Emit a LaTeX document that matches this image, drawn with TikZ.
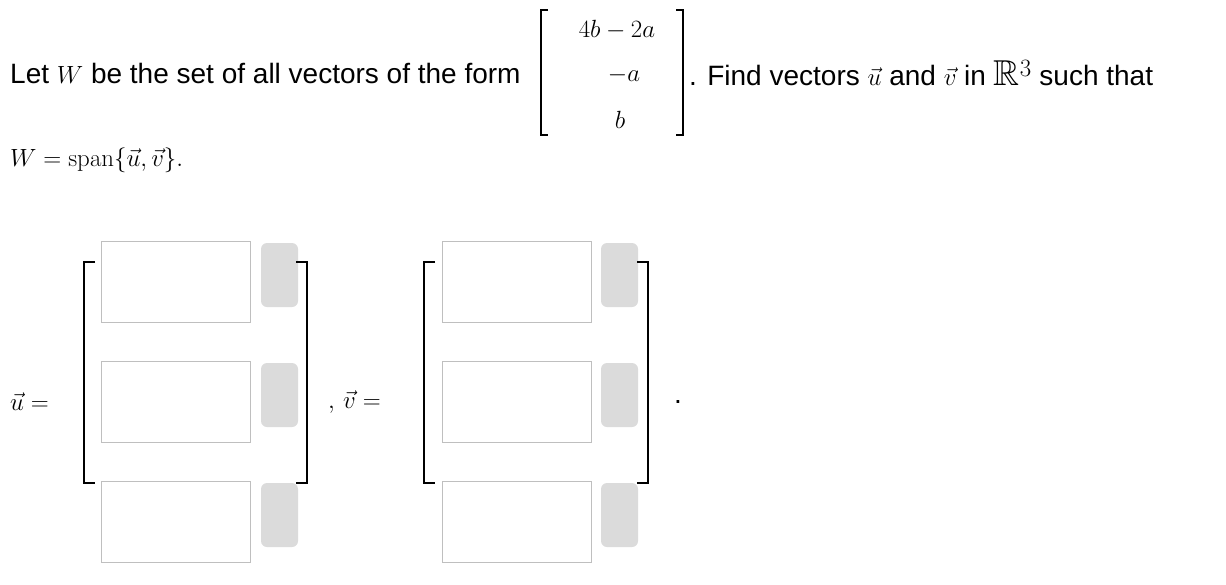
\documentclass[tikz,border=0pt]{standalone}
\usepackage{amsmath,amssymb}
\usepackage[no-math]{fontspec}
\setmainfont{Liberation Sans}
\newcommand{\mm}[1]{{\fontsize{36}{40}\selectfont$#1$}}
\begin{document}
\begin{tikzpicture}[x=1pt,y=-1pt,
  txt/.style={inner sep=0pt,font=\fontsize{28}{32}\selectfont},
  inbox/.style={draw=black!25,fill=white,line width=1pt,minimum width=149pt,minimum height=81pt,inner sep=0pt},
  btn/.style={fill=black!14,rounded corners=6pt,minimum width=37pt,minimum height=64pt,inner sep=0pt},
  brk/.style={line width=1.3pt}]
\useasboundingbox (0,0) rectangle (1226,584);
\node[txt,anchor=west] (t1) at (10,73) {Let \mm{W} be the set of all vectors of the form};
% small matrix
\draw[brk] (548,10) -- (541,10) -- (541,135) -- (548,135);
\draw[brk] (676,10) -- (683,10) -- (683,135) -- (676,135);
\node[txt] (m1) at (617,30) {\mm{4b-2a}};
\node[txt] (m2) at (624,75) {\mm{-a}};
\node[txt] (m3) at (620,120) {\mm{b}};
\node[txt,anchor=west] (t2) at (689,73) {. Find vectors \mm{\vec u} and \mm{\vec v} in \mm{\mathbb{R}^3} such that};
\node[txt,anchor=west] (t3) at (10,160) {\mm{W=\operatorname{span}\{\vec u,\vec v\}.}};
% u vector
\node[txt,anchor=west] (ul) at (10,402) {\mm{\vec u=}};
\draw[brk] (95,262) -- (84,262) -- (84,483) -- (95,483);
\foreach \i/\y in {1/282,2/402,3/522}{
  \node[inbox] (ub\i) at (175.5,\y) {};
  \node[btn] (ubt\i) at (279.5,\y-7) {};
}
\draw[brk] (296,262) -- (307,262) -- (307,483) -- (296,483);
\node[txt,anchor=west] (vl) at (328,402) {\mm{,\,\vec v=}};
\draw[brk] (435,262) -- (424,262) -- (424,483) -- (435,483);
\foreach \i/\y in {1/282,2/402,3/522}{
  \node[inbox] (vb\i) at (517,\y) {};
  \node[btn] (vbt\i) at (619.5,\y-7) {};
}
\draw[brk] (637,262) -- (648,262) -- (648,483) -- (637,483);
\node[txt] (dot) at (678,402) {.};
\end{tikzpicture}
\end{document}
